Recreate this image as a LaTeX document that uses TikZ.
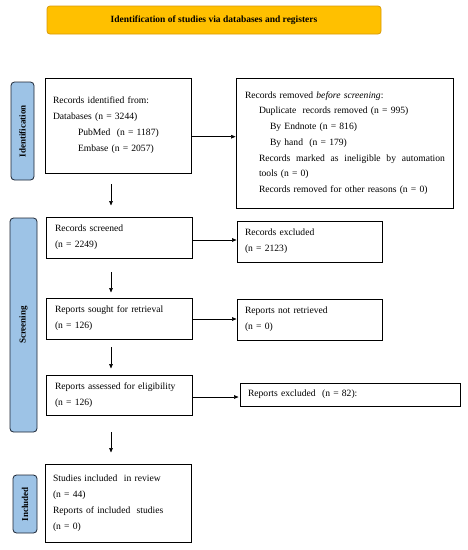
\documentclass[tikz,border=0pt]{standalone}
\usepackage{fontspec}
\setmainfont{Liberation Serif}
\usetikzlibrary{arrows.meta,calc}
\definecolor{titlefill}{HTML}{FFC000}
\definecolor{titledraw}{HTML}{D99A06}
\definecolor{sidefill}{HTML}{9DC3E6}
\definecolor{sidedraw}{HTML}{1B2433}
\tikzset{
  box/.style={draw=black, line width=0.9pt, inner ysep=0pt, align=left, anchor=center,
    font=\fontsize{9.6}{16}\selectfont},
  sidelabel/.style={draw=sidedraw, fill=sidefill, line width=0.8pt, rounded corners=3.5pt,
    rotate=90, inner sep=0pt, font=\bfseries\fontsize{9}{10}\selectfont},
  arr/.style={line width=0.6pt, -{Triangle[length=4.5pt,width=3.6pt]}},
}
\begin{document}
\begin{tikzpicture}[x=1pt,y=-1pt]
\useasboundingbox (0,0) rectangle (467,550);
% title
\node[draw=titledraw, fill=titlefill, line width=0.8pt, rounded corners=3pt,
  minimum width=334pt, minimum height=28pt, inner sep=0pt,
  font=\bfseries\fontsize{9.5}{10}\selectfont] (title) at (214,20)
  {Identification of studies via databases and registers};
% side labels
\node[sidelabel, minimum width=98pt, minimum height=23pt] (sideid) at (22.5,131) {Identification};
\node[sidelabel, minimum width=214pt, minimum height=27pt] (sidescr) at (23.5,325) {Screening};
\node[sidelabel, minimum width=58pt, minimum height=24pt] (sideinc) at (25,504) {Included};
% boxes
\node[box, minimum height=95pt, inner xsep=8pt, text width=130pt] (ident) at (118,125.5)
  {Records identified from:\\
   Databases (n = 3244)\\
   \hspace*{25pt}PubMed\ \ (n = 1187)\\
   \hspace*{25pt}Embase (n = 2057)};
\node[box, minimum height=130pt, inner xsep=9pt, text width=199pt,
  font=\fontsize{9.6}{15.7}\selectfont] (removed) at (344.5,143)
  {Records removed \emph{before screening}:\\
   \hspace*{14pt}Duplicate\ \ records removed (n = 995)\\
   \hspace*{25pt}By Endnote (n = 816)\\
   \hspace*{25pt}By hand\ \ (n = 179)\\
   \hspace*{14pt}\hbox to 186pt{Records\hfill marked\hfill as\hfill ineligible\hfill by\hfill automation}\\
   \hspace*{14pt}tools (n = 0)\\
   \hspace*{14pt}Records removed for other reasons (n = 0)};
\node[box, minimum height=41pt, inner xsep=9pt, text width=128pt] (screened) at (119,237.5)
  {Records screened\\(n = 2249)};
\node[box, minimum height=41pt, inner xsep=8pt, text width=129pt] (excluded) at (309.5,241.5)
  {Records excluded\\(n = 2123)};
\node[box, minimum height=41pt, inner xsep=9pt, text width=128pt] (sought) at (119,318.5)
  {Reports sought for retrieval\\(n = 126)};
\node[box, minimum height=41pt, inner xsep=8pt, text width=129pt] (notret) at (309.5,319.5)
  {Reports not retrieved\\(n = 0)};
\node[box, minimum height=40pt, inner xsep=9pt, text width=128pt] (assessed) at (119,395)
  {Reports assessed for eligibility\\(n = 126)};
\node[box, minimum height=23pt, inner xsep=8pt, text width=204pt] (repexcl) at (350,394.5)
  {Reports excluded\ \ (n = 82):};
\node[box, minimum height=78pt, inner xsep=8pt, text width=130pt] (included) at (118,503)
  {Studies included\ \ in review\\(n = 44)\\Reports of included\ \ studies\\(n = 0)};
% horizontal arrows
\coordinate (h1) at (0,136.7);
\coordinate (h2) at (0,240);
\coordinate (h3) at (0,319);
\coordinate (h4) at (0,397);
\draw[arr] (ident.east |- h1) -- (removed.west |- h1);
\draw[arr] (screened.east |- h2) -- (excluded.west |- h2);
\draw[arr] (sought.east |- h3) -- (notret.west |- h3);
\draw[arr] (assessed.east |- h4) -- ([xshift=-1pt]repexcl.west |- h4);
% vertical arrows
\coordinate (v1s) at (111,184); \coordinate (v1e) at (111,205.5);
\coordinate (v2s) at (111,272); \coordinate (v2e) at (111,292.5);
\coordinate (v3s) at (111,347); \coordinate (v3e) at (111,368.5);
\coordinate (v4s) at (111,432); \coordinate (v4e) at (111,452.5);
\draw[arr] (v1s) -- (v1e);
\draw[arr] (v2s) -- (v2e);
\draw[arr] (v3s) -- (v3e);
\draw[arr] (v4s) -- (v4e);
\end{tikzpicture}
\end{document}
